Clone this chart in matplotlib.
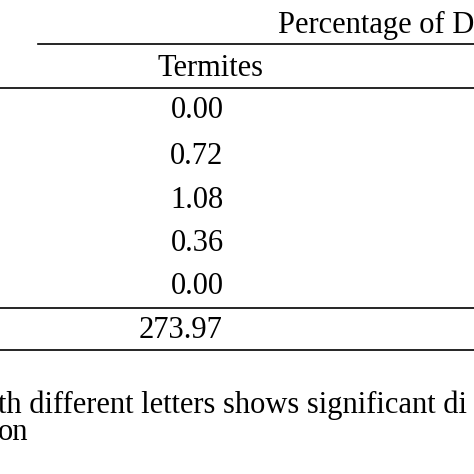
import matplotlib
matplotlib.use("Agg")
import matplotlib.pyplot as plt

header = "Percentage of D"
subheader = "Termites"
values = ["0.00", "0.72", "1.08", "0.36", "0.00"]
total = "273.97"
notes = ["th different letters shows significant di", "on"]

plt.rcParams['font.family'] = ['Liberation Serif', 'DejaVu Serif']
fig = plt.figure(figsize=(4.74, 4.74), dpi=100)
ax = fig.add_axes([0, 0, 1, 1])
ax.set_xlim(0, 474); ax.set_ylim(474, 0); ax.axis('off')
fs = 22
ax.text(278, 25, header, fontsize=fs, va='center', ha='left')
ax.plot([38, 474], [44, 44], color='black', lw=1.2)
ax.text(211, 68, subheader, fontsize=fs, va='center', ha='center')
ax.plot([0, 474], [88, 88], color='black', lw=1.2)
ys = [110, 156, 200, 243, 287]
for y, v in zip(ys, values):
    ax.text(197, y, v, fontsize=fs, va='center', ha='center')
ax.plot([0, 474], [308, 308], color='black', lw=1.2)
ax.text(181, 330, total, fontsize=fs, va='center', ha='center')
ax.plot([0, 474], [350, 350], color='black', lw=1.2)
ax.text(-2, 405, notes[0], fontsize=fs, va='center', ha='left')
ax.text(-2, 432, notes[1], fontsize=fs, va='center', ha='left')
fig.savefig("out.png", dpi=100)
